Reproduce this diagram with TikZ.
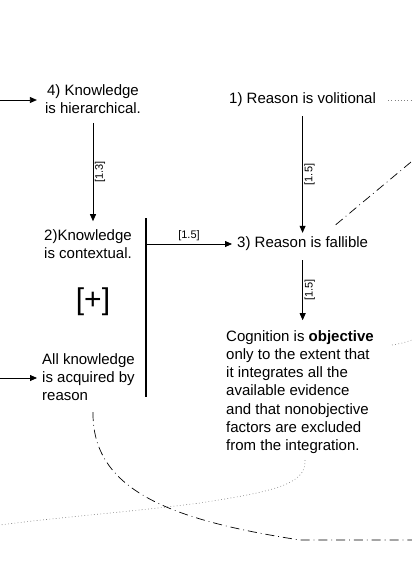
\documentclass[tikz,border=0pt]{standalone}
\usepackage{fontspec}
\setmainfont{Liberation Sans}
\usetikzlibrary{arrows.meta,positioning}
\begin{document}
\begin{tikzpicture}[
  x=1pt, y=-1pt,
  every node/.style={font=\fontsize{15}{18.2}\selectfont, inner sep=0pt},
  claim/.style={align=center},
  note/.style={align=left},
  tag/.style={font=\fontsize{11}{12}\selectfont, inner sep=1.5pt},
  link/.style={-{Triangle[length=7pt,width=6pt]}, line width=0.8pt},
  loose/.style={line width=0.6pt, gray, dash pattern=on 0.8pt off 2.4pt},
  chain/.style={line width=0.7pt, dash pattern=on 9pt off 4pt on 0.8pt off 4pt}
]
\useasboundingbox (0,0) rectangle (412,571);

% statements
\node[claim] (hier) at (93,99) {4) Knowledge\\is hierarchical.};
\node[claim] (context) at (88,244) {2)Knowledge\\is contextual.};
\node[font=\fontsize{30}{30}\selectfont] (plus) at (93,302) {[+]};
\node[note, anchor=west] (acquired) at (42,377) {All knowledge\\is acquired by\\reason};
\node[anchor=west] (volition) at (229,100) {1) Reason is volitional};
\node[anchor=west] (fallible) at (237,244) {3) Reason is fallible};
\node[note, anchor=west] (objective) at (226,392) {Cognition is \textbf{objective}\\only to the extent that\\it integrates all the\\available evidence\\and that nonobjective\\factors are excluded\\from the integration.};

% free ends
\coordinate (inhier) at (0,100);
\coordinate (inacquired) at (0,378);
\coordinate (bartop) at (146,218);
\coordinate (barbot) at (146,397);
\coordinate (barmid) at (146,244);

% links
\draw[link] (inhier) -- ([xshift=-8pt]hier.west |- inhier);
\draw[link] (inacquired) -- ([xshift=-5pt]acquired.west |- inacquired);
\draw[link] ([yshift=-9pt]hier.south) -- ([yshift=8pt]hier.south |- context.north)
  node[midway, tag, rotate=90, anchor=north] {[1.3]};
\draw[line width=2.4pt] (bartop) -- (barbot);
\draw[link] (barmid) -- ([xshift=-5pt]fallible.west)
  node[midway, tag, above=1pt] {[1.5]};
\draw[link] ([yshift=-9pt]volition.south) -- ([yshift=4pt]volition.south |- fallible.north)
  node[midway, tag, rotate=90, anchor=north] {[1.5]};
\draw[link] ([yshift=-9pt]fallible.south) -- ([yshift=10pt]fallible.south |- objective.north)
  node[midway, tag, rotate=90, anchor=north] {[1.5]};

% loose threads
\draw[loose] ([xshift=12pt]volition.east) -- (412,100);
\draw[loose] (392,345) to[bend right=5] (412,340);
\draw[loose] (305,460) .. controls (307,485) and (270,492) .. (200,503)
  .. controls (130,512) and (60,517) .. (0,525);
\draw[chain] (411,162) -- (333,227);
\draw[chain] (93,412) .. controls (92,490) and (170,520) .. (300,540) -- (412,540);
\end{tikzpicture}
\end{document}
